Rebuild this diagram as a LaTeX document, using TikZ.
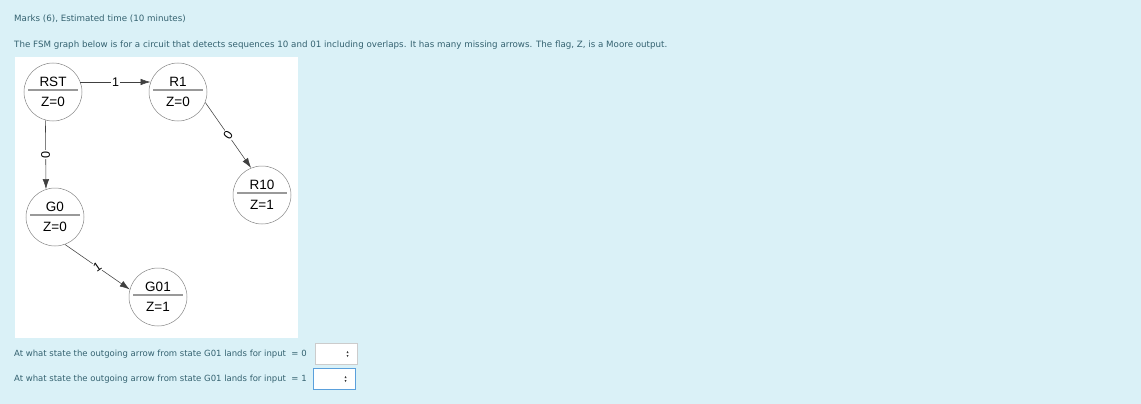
\documentclass[tikz,border=0pt]{standalone}
\usepackage{fontspec}
\setmainfont{Liberation Sans}
\newfontfamily\uifont{DejaVu Sans}
\usetikzlibrary{arrows.meta}

\definecolor{pagebg}{RGB}{218,241,247}
\definecolor{uitext}{RGB}{52,98,112}
\definecolor{ringgray}{RGB}{135,135,135}
\definecolor{selblue}{RGB}{90,160,220}

\tikzset{
  state/.style={circle,draw=ringgray,line width=0.5pt,fill=white,minimum size=58pt,inner sep=0pt},
  statetxt/.style={inner sep=0.75pt,font=\fontsize{13.5}{15}\selectfont},
  divider/.style={draw=ringgray!85,line width=1.3pt},
  trans/.style={draw=black!75,line width=0.55pt,-{Latex[length=10pt,width=6.5pt]}},
  translbl/.style={midway,sloped,fill=white,inner sep=1pt,font=\fontsize{12.5}{13}\selectfont},
  uitxt/.style={anchor=west,inner sep=0pt,text=uitext,font=\uifont\fontsize{8.7}{10}\selectfont},
  qtxt/.style={uitxt,font=\uifont\fontsize{8.5}{10}\selectfont},
  selbox/.style={draw=black!20,fill=white,line width=0.6pt,minimum width=42pt,minimum height=21pt,inner sep=0pt},
}

% state circle with name / output
\newcommand{\fsmstate}[4]{%
  \node [state] (#1) at (#2) {};
  \draw [divider] ([xshift=-25pt,yshift=-2pt]#1.center) -- ([xshift=25pt,yshift=-2pt]#1.center);
  \node [statetxt] (#1-name) at ([yshift=-10.5pt]#1.center) {#3};
  \node [statetxt] (#1-out) at ([yshift=10pt]#1.center) {#4};
}

\begin{document}
\begin{tikzpicture}[x=1pt,y=1pt,yscale=-1,xscale=1]
        \useasboundingbox (0,0) rectangle (1141,404);
        %Shape: Rectangle (page)
        \fill [pagebg] (0,0) rectangle (1141,404);

        % Text Node
        \node [uitxt] (marks) at (14,19) {Marks (6), Estimated time (10 minutes)};
        % Text Node
        \node [uitxt] (intro) at (14,45) {The FSM graph below is for a circuit that detects sequences 10 and 01 including overlaps. It has many missing arrows. The flag, Z, is a Moore output.};

        %Shape: Rectangle (graph panel)
        \fill [white] (15,57) rectangle (298,338);

        %States
        \fsmstate{rst}{53,92}{RST}{Z=0}
        \fsmstate{rone}{178,92}{R1}{Z=0}
        \fsmstate{ronezero}{262,195}{R10}{Z=1}
        \fsmstate{gzero}{55,217}{G0}{Z=0}
        \fsmstate{gzeroone}{158,297}{G01}{Z=1}

        %Transitions
        \draw [trans] (rst.20) -- node [translbl] (l-rst-rone) {1} (rone.160);
        \draw [trans] (rone.-21) -- node [translbl] (l-rone-ronezero) {0} (ronezero.112);
        \draw [trans] (rst.255) -- node [translbl] (l-rst-gzero) {0} (gzero.108);
        \draw [trans] (gzero.-70) -- node [translbl] (l-gzero-gzeroone) {1} (gzeroone.165);

        % Text Node
        \node [qtxt] (q0) at (14,354) {At what state the outgoing arrow from state G01 lands for input\ \ = 0};
        \node [selbox, anchor=west] (sel0) at (315,354) {};
        \fill [black!80] ([xshift=-9pt,yshift=-1pt]sel0.east) -- ++(-2,0) -- ++(1,-2) -- cycle;
        \fill [black!80] ([xshift=-9pt,yshift=1pt]sel0.east) -- ++(-2,0) -- ++(1,2) -- cycle;

        % Text Node
        \node [qtxt] (q1) at (14,379) {At what state the outgoing arrow from state G01 lands for input\ \ = 1};
        \node [selbox, draw=selblue, anchor=west] (sel1) at (313,379) {};
        \fill [black!80] ([xshift=-9pt,yshift=-1pt]sel1.east) -- ++(-2,0) -- ++(1,-2) -- cycle;
        \fill [black!80] ([xshift=-9pt,yshift=1pt]sel1.east) -- ++(-2,0) -- ++(1,2) -- cycle;

\end{tikzpicture}
\end{document}
